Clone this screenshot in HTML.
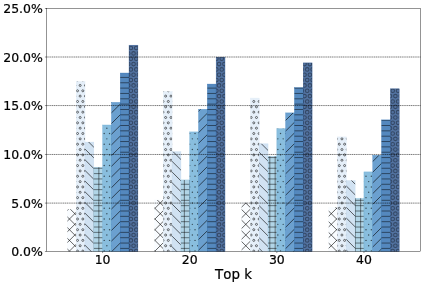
<!DOCTYPE html>
<html><head><meta charset="utf-8"><title>Top k</title>
<style>html,body{margin:0;padding:0;background:#fff}svg{display:block}</style></head>
<body>
<svg width="424" height="285" viewBox="0 0 424 285">
<rect width="424" height="285" fill="#fff"/>
<defs>
<filter id="bl" x="-5%" y="-5%" width="110%" height="110%"><feGaussianBlur stdDeviation="0.45"/></filter>
<filter id="bs" x="-5%" y="-5%" width="110%" height="110%"><feGaussianBlur stdDeviation="0.25"/></filter>
<clipPath id="c00"><rect x="67.4" y="209.3" width="8.81" height="42.2"/></clipPath>
<clipPath id="c01"><rect x="76.21" y="81.6" width="8.81" height="169.9"/></clipPath>
<clipPath id="c02"><rect x="85.02" y="142.1" width="8.81" height="109.4"/></clipPath>
<clipPath id="c03"><rect x="93.83" y="167.2" width="8.81" height="84.3"/></clipPath>
<clipPath id="c04"><rect x="102.64" y="125" width="8.81" height="126.5"/></clipPath>
<clipPath id="c05"><rect x="111.45" y="102.4" width="8.81" height="149.1"/></clipPath>
<clipPath id="c06"><rect x="120.26" y="73.05" width="8.81" height="178.45"/></clipPath>
<clipPath id="c07"><rect x="129.07" y="45.2" width="8.81" height="206.3"/></clipPath>
<clipPath id="c10"><rect x="154.5" y="200" width="8.81" height="51.5"/></clipPath>
<clipPath id="c11"><rect x="163.31" y="91.6" width="8.81" height="159.9"/></clipPath>
<clipPath id="c12"><rect x="172.12" y="151.7" width="8.81" height="99.8"/></clipPath>
<clipPath id="c13"><rect x="180.93" y="179.9" width="8.81" height="71.6"/></clipPath>
<clipPath id="c14"><rect x="189.74" y="131.9" width="8.81" height="119.6"/></clipPath>
<clipPath id="c15"><rect x="198.55" y="109.3" width="8.81" height="142.2"/></clipPath>
<clipPath id="c16"><rect x="207.36" y="84.1" width="8.81" height="167.4"/></clipPath>
<clipPath id="c17"><rect x="216.17" y="57.2" width="8.81" height="194.3"/></clipPath>
<clipPath id="c20"><rect x="241.6" y="202.7" width="8.81" height="48.8"/></clipPath>
<clipPath id="c21"><rect x="250.41" y="98.1" width="8.81" height="153.4"/></clipPath>
<clipPath id="c22"><rect x="259.22" y="143.8" width="8.81" height="107.7"/></clipPath>
<clipPath id="c23"><rect x="268.03" y="156.2" width="8.81" height="95.3"/></clipPath>
<clipPath id="c24"><rect x="276.84" y="128.7" width="8.81" height="122.8"/></clipPath>
<clipPath id="c25"><rect x="285.65" y="112.9" width="8.81" height="138.6"/></clipPath>
<clipPath id="c26"><rect x="294.46" y="87.6" width="8.81" height="163.9"/></clipPath>
<clipPath id="c27"><rect x="303.27" y="62.9" width="8.81" height="188.6"/></clipPath>
<clipPath id="c30"><rect x="328.7" y="207.3" width="8.81" height="44.2"/></clipPath>
<clipPath id="c31"><rect x="337.51" y="136.9" width="8.81" height="114.6"/></clipPath>
<clipPath id="c32"><rect x="346.32" y="180.6" width="8.81" height="70.9"/></clipPath>
<clipPath id="c33"><rect x="355.13" y="198.2" width="8.81" height="53.3"/></clipPath>
<clipPath id="c34"><rect x="363.94" y="171.9" width="8.81" height="79.6"/></clipPath>
<clipPath id="c35"><rect x="372.75" y="155.3" width="8.81" height="96.2"/></clipPath>
<clipPath id="c36"><rect x="381.56" y="119.9" width="8.81" height="131.6"/></clipPath>
<clipPath id="c37"><rect x="390.37" y="88.8" width="8.81" height="162.7"/></clipPath>
</defs>
<rect x="67.4" y="209.3" width="8.81" height="42.2" fill="#f7fbff" fill-opacity="0.8" stroke="#f7fbff" stroke-opacity="0.8" stroke-width="0.45"/>
<g clip-path="url(#c00)" fill="none" stroke="#000" stroke-opacity="0.76" stroke-width="0.8">
<g filter="url(#bs)">
<path d="M66.4 211.39L77.21 200.58M66.4 222.07L77.21 211.26M66.4 232.76L77.21 221.95M66.4 243.44L77.21 232.63M66.4 254.13L77.21 243.32"/>
<path d="M66.4 248.01L77.21 258.82M66.4 237.33L77.21 248.14M66.4 226.64L77.21 237.45M66.4 215.95L77.21 226.76M66.4 205.27L77.21 216.08"/>
</g></g>
<rect x="76.21" y="81.6" width="8.81" height="169.9" fill="#deebf7" fill-opacity="0.8" stroke="#deebf7" stroke-opacity="0.8" stroke-width="0.45"/>
<g clip-path="url(#c01)" fill="none" stroke="#000" stroke-opacity="0.55" stroke-width="1">
<g filter="url(#bl)">
<circle cx="77.47" cy="80.09" r="1.02"/>
<circle cx="82.82" cy="80.09" r="1.02"/>
<circle cx="74.8" cy="85.44" r="1.02"/>
<circle cx="80.14" cy="85.44" r="1.02"/>
<circle cx="85.49" cy="85.44" r="1.02"/>
<circle cx="77.47" cy="90.78" r="1.02"/>
<circle cx="82.82" cy="90.78" r="1.02"/>
<circle cx="74.8" cy="96.12" r="1.02"/>
<circle cx="80.14" cy="96.12" r="1.02"/>
<circle cx="85.49" cy="96.12" r="1.02"/>
<circle cx="77.47" cy="101.47" r="1.02"/>
<circle cx="82.82" cy="101.47" r="1.02"/>
<circle cx="74.8" cy="106.81" r="1.02"/>
<circle cx="80.14" cy="106.81" r="1.02"/>
<circle cx="85.49" cy="106.81" r="1.02"/>
<circle cx="77.47" cy="112.15" r="1.02"/>
<circle cx="82.82" cy="112.15" r="1.02"/>
<circle cx="74.8" cy="117.5" r="1.02"/>
<circle cx="80.14" cy="117.5" r="1.02"/>
<circle cx="85.49" cy="117.5" r="1.02"/>
<circle cx="77.47" cy="122.84" r="1.02"/>
<circle cx="82.82" cy="122.84" r="1.02"/>
<circle cx="74.8" cy="128.18" r="1.02"/>
<circle cx="80.14" cy="128.18" r="1.02"/>
<circle cx="85.49" cy="128.18" r="1.02"/>
<circle cx="77.47" cy="133.52" r="1.02"/>
<circle cx="82.82" cy="133.52" r="1.02"/>
<circle cx="74.8" cy="138.87" r="1.02"/>
<circle cx="80.14" cy="138.87" r="1.02"/>
<circle cx="85.49" cy="138.87" r="1.02"/>
<circle cx="77.47" cy="144.21" r="1.02"/>
<circle cx="82.82" cy="144.21" r="1.02"/>
<circle cx="74.8" cy="149.55" r="1.02"/>
<circle cx="80.14" cy="149.55" r="1.02"/>
<circle cx="85.49" cy="149.55" r="1.02"/>
<circle cx="77.47" cy="154.9" r="1.02"/>
<circle cx="82.82" cy="154.9" r="1.02"/>
<circle cx="74.8" cy="160.24" r="1.02"/>
<circle cx="80.14" cy="160.24" r="1.02"/>
<circle cx="85.49" cy="160.24" r="1.02"/>
<circle cx="77.47" cy="165.58" r="1.02"/>
<circle cx="82.82" cy="165.58" r="1.02"/>
<circle cx="74.8" cy="170.93" r="1.02"/>
<circle cx="80.14" cy="170.93" r="1.02"/>
<circle cx="85.49" cy="170.93" r="1.02"/>
<circle cx="77.47" cy="176.27" r="1.02"/>
<circle cx="82.82" cy="176.27" r="1.02"/>
<circle cx="74.8" cy="181.61" r="1.02"/>
<circle cx="80.14" cy="181.61" r="1.02"/>
<circle cx="85.49" cy="181.61" r="1.02"/>
<circle cx="77.47" cy="186.95" r="1.02"/>
<circle cx="82.82" cy="186.95" r="1.02"/>
<circle cx="74.8" cy="192.3" r="1.02"/>
<circle cx="80.14" cy="192.3" r="1.02"/>
<circle cx="85.49" cy="192.3" r="1.02"/>
<circle cx="77.47" cy="197.64" r="1.02"/>
<circle cx="82.82" cy="197.64" r="1.02"/>
<circle cx="74.8" cy="202.98" r="1.02"/>
<circle cx="80.14" cy="202.98" r="1.02"/>
<circle cx="85.49" cy="202.98" r="1.02"/>
<circle cx="77.47" cy="208.33" r="1.02"/>
<circle cx="82.82" cy="208.33" r="1.02"/>
<circle cx="74.8" cy="213.67" r="1.02"/>
<circle cx="80.14" cy="213.67" r="1.02"/>
<circle cx="85.49" cy="213.67" r="1.02"/>
<circle cx="77.47" cy="219.01" r="1.02"/>
<circle cx="82.82" cy="219.01" r="1.02"/>
<circle cx="74.8" cy="224.36" r="1.02"/>
<circle cx="80.14" cy="224.36" r="1.02"/>
<circle cx="85.49" cy="224.36" r="1.02"/>
<circle cx="77.47" cy="229.7" r="1.02"/>
<circle cx="82.82" cy="229.7" r="1.02"/>
<circle cx="74.8" cy="235.04" r="1.02"/>
<circle cx="80.14" cy="235.04" r="1.02"/>
<circle cx="85.49" cy="235.04" r="1.02"/>
<circle cx="77.47" cy="240.38" r="1.02"/>
<circle cx="82.82" cy="240.38" r="1.02"/>
<circle cx="74.8" cy="245.73" r="1.02"/>
<circle cx="80.14" cy="245.73" r="1.02"/>
<circle cx="85.49" cy="245.73" r="1.02"/>
<circle cx="77.47" cy="251.07" r="1.02"/>
<circle cx="82.82" cy="251.07" r="1.02"/>
</g></g>
<rect x="85.02" y="142.1" width="8.81" height="109.4" fill="#c6dbef" fill-opacity="0.8" stroke="#c6dbef" stroke-opacity="0.8" stroke-width="0.45"/>
<g clip-path="url(#c02)" fill="none" stroke="#000" stroke-opacity="0.76" stroke-width="0.8">
<g filter="url(#bs)">
<path d="M84.02 244.26L94.83 255.07M84.02 233.57L94.83 244.38M84.02 222.89L94.83 233.7M84.02 212.2L94.83 223.01M84.02 201.52L94.83 212.33M84.02 190.83L94.83 201.64M84.02 180.14L94.83 190.95M84.02 169.46L94.83 180.27M84.02 158.77L94.83 169.58M84.02 148.09L94.83 158.9M84.02 137.4L94.83 148.21"/>
</g></g>
<rect x="93.83" y="167.2" width="8.81" height="84.3" fill="#9ecae1" fill-opacity="0.8" stroke="#9ecae1" stroke-opacity="0.8" stroke-width="0.45"/>
<g clip-path="url(#c03)" fill="none" stroke="#000" stroke-opacity="0.6" stroke-width="0.8">
<g filter="url(#bs)">
<path d="M92.83 168.25H103.64M92.83 173.6H103.64M92.83 178.94H103.64M92.83 184.28H103.64M92.83 189.63H103.64M92.83 194.97H103.64M92.83 200.31H103.64M92.83 205.66H103.64M92.83 211H103.64M92.83 216.34H103.64M92.83 221.68H103.64M92.83 227.03H103.64M92.83 232.37H103.64M92.83 237.71H103.64M92.83 243.06H103.64M92.83 248.4H103.64"/>
<path d="M93.5 166.2V252.5M98.85 166.2V252.5"/>
</g></g>
<rect x="102.64" y="125" width="8.81" height="126.5" fill="#6baed6" fill-opacity="0.8" stroke="#6baed6" stroke-opacity="0.8" stroke-width="0.45"/>
<g clip-path="url(#c04)" fill="#000" fill-opacity="0.6">
<g filter="url(#bs)">
<circle cx="101.52" cy="128.18" r="0.72"/>
<circle cx="106.86" cy="128.18" r="0.72"/>
<circle cx="112.2" cy="128.18" r="0.72"/>
<circle cx="104.19" cy="133.52" r="0.72"/>
<circle cx="109.53" cy="133.52" r="0.72"/>
<circle cx="101.52" cy="138.87" r="0.72"/>
<circle cx="106.86" cy="138.87" r="0.72"/>
<circle cx="112.2" cy="138.87" r="0.72"/>
<circle cx="104.19" cy="144.21" r="0.72"/>
<circle cx="109.53" cy="144.21" r="0.72"/>
<circle cx="101.52" cy="149.55" r="0.72"/>
<circle cx="106.86" cy="149.55" r="0.72"/>
<circle cx="112.2" cy="149.55" r="0.72"/>
<circle cx="104.19" cy="154.9" r="0.72"/>
<circle cx="109.53" cy="154.9" r="0.72"/>
<circle cx="101.52" cy="160.24" r="0.72"/>
<circle cx="106.86" cy="160.24" r="0.72"/>
<circle cx="112.2" cy="160.24" r="0.72"/>
<circle cx="104.19" cy="165.58" r="0.72"/>
<circle cx="109.53" cy="165.58" r="0.72"/>
<circle cx="101.52" cy="170.93" r="0.72"/>
<circle cx="106.86" cy="170.93" r="0.72"/>
<circle cx="112.2" cy="170.93" r="0.72"/>
<circle cx="104.19" cy="176.27" r="0.72"/>
<circle cx="109.53" cy="176.27" r="0.72"/>
<circle cx="101.52" cy="181.61" r="0.72"/>
<circle cx="106.86" cy="181.61" r="0.72"/>
<circle cx="112.2" cy="181.61" r="0.72"/>
<circle cx="104.19" cy="186.95" r="0.72"/>
<circle cx="109.53" cy="186.95" r="0.72"/>
<circle cx="101.52" cy="192.3" r="0.72"/>
<circle cx="106.86" cy="192.3" r="0.72"/>
<circle cx="112.2" cy="192.3" r="0.72"/>
<circle cx="104.19" cy="197.64" r="0.72"/>
<circle cx="109.53" cy="197.64" r="0.72"/>
<circle cx="101.52" cy="202.98" r="0.72"/>
<circle cx="106.86" cy="202.98" r="0.72"/>
<circle cx="112.2" cy="202.98" r="0.72"/>
<circle cx="104.19" cy="208.33" r="0.72"/>
<circle cx="109.53" cy="208.33" r="0.72"/>
<circle cx="101.52" cy="213.67" r="0.72"/>
<circle cx="106.86" cy="213.67" r="0.72"/>
<circle cx="112.2" cy="213.67" r="0.72"/>
<circle cx="104.19" cy="219.01" r="0.72"/>
<circle cx="109.53" cy="219.01" r="0.72"/>
<circle cx="101.52" cy="224.36" r="0.72"/>
<circle cx="106.86" cy="224.36" r="0.72"/>
<circle cx="112.2" cy="224.36" r="0.72"/>
<circle cx="104.19" cy="229.7" r="0.72"/>
<circle cx="109.53" cy="229.7" r="0.72"/>
<circle cx="101.52" cy="235.04" r="0.72"/>
<circle cx="106.86" cy="235.04" r="0.72"/>
<circle cx="112.2" cy="235.04" r="0.72"/>
<circle cx="104.19" cy="240.38" r="0.72"/>
<circle cx="109.53" cy="240.38" r="0.72"/>
<circle cx="101.52" cy="245.73" r="0.72"/>
<circle cx="106.86" cy="245.73" r="0.72"/>
<circle cx="112.2" cy="245.73" r="0.72"/>
<circle cx="104.19" cy="251.07" r="0.72"/>
<circle cx="109.53" cy="251.07" r="0.72"/>
</g></g>
<rect x="111.45" y="102.4" width="8.81" height="149.1" fill="#4688c3" fill-opacity="0.8" stroke="#4688c3" stroke-opacity="0.8" stroke-width="0.45"/>
<g clip-path="url(#c05)" fill="none" stroke="#000" stroke-opacity="0.76" stroke-width="0.8">
<g filter="url(#bs)">
<path d="M110.45 103.22L121.26 92.41M110.45 113.91L121.26 103.1M110.45 124.59L121.26 113.78M110.45 135.28L121.26 124.47M110.45 145.96L121.26 135.15M110.45 156.65L121.26 145.84M110.45 167.34L121.26 156.53M110.45 178.02L121.26 167.21M110.45 188.71L121.26 177.9M110.45 199.39L121.26 188.58M110.45 210.08L121.26 199.27M110.45 220.77L121.26 209.96M110.45 231.45L121.26 220.64M110.45 242.14L121.26 231.33M110.45 252.82L121.26 242.01"/>
</g></g>
<rect x="120.26" y="73.05" width="8.81" height="178.45" fill="#296aae" fill-opacity="0.8" stroke="#296aae" stroke-opacity="0.8" stroke-width="0.45"/>
<g clip-path="url(#c06)" fill="none" stroke="#000" stroke-opacity="0.62" stroke-width="0.8">
<g filter="url(#bs)">
<path d="M119.26 72.08H130.07M119.26 77.42H130.07M119.26 82.77H130.07M119.26 88.11H130.07M119.26 93.45H130.07M119.26 98.8H130.07M119.26 104.14H130.07M119.26 109.48H130.07M119.26 114.82H130.07M119.26 120.17H130.07M119.26 125.51H130.07M119.26 130.85H130.07M119.26 136.2H130.07M119.26 141.54H130.07M119.26 146.88H130.07M119.26 152.23H130.07M119.26 157.57H130.07M119.26 162.91H130.07M119.26 168.25H130.07M119.26 173.6H130.07M119.26 178.94H130.07M119.26 184.28H130.07M119.26 189.63H130.07M119.26 194.97H130.07M119.26 200.31H130.07M119.26 205.66H130.07M119.26 211H130.07M119.26 216.34H130.07M119.26 221.68H130.07M119.26 227.03H130.07M119.26 232.37H130.07M119.26 237.71H130.07M119.26 243.06H130.07M119.26 248.4H130.07"/>
</g></g>
<rect x="129.07" y="45.2" width="8.81" height="206.3" fill="#274f88" fill-opacity="0.8" stroke="#274f88" stroke-opacity="0.8" stroke-width="0.45"/>
<g clip-path="url(#c07)" fill="none" stroke="#000" stroke-opacity="0.37" stroke-width="1.1">
<g filter="url(#bl)">
<circle cx="128.23" cy="42.69" r="1.78"/>
<circle cx="133.57" cy="42.69" r="1.78"/>
<circle cx="138.92" cy="42.69" r="1.78"/>
<circle cx="130.9" cy="48.04" r="1.78"/>
<circle cx="136.25" cy="48.04" r="1.78"/>
<circle cx="128.23" cy="53.38" r="1.78"/>
<circle cx="133.57" cy="53.38" r="1.78"/>
<circle cx="138.92" cy="53.38" r="1.78"/>
<circle cx="130.9" cy="58.72" r="1.78"/>
<circle cx="136.25" cy="58.72" r="1.78"/>
<circle cx="128.23" cy="64.07" r="1.78"/>
<circle cx="133.57" cy="64.07" r="1.78"/>
<circle cx="138.92" cy="64.07" r="1.78"/>
<circle cx="130.9" cy="69.41" r="1.78"/>
<circle cx="136.25" cy="69.41" r="1.78"/>
<circle cx="128.23" cy="74.75" r="1.78"/>
<circle cx="133.57" cy="74.75" r="1.78"/>
<circle cx="138.92" cy="74.75" r="1.78"/>
<circle cx="130.9" cy="80.09" r="1.78"/>
<circle cx="136.25" cy="80.09" r="1.78"/>
<circle cx="128.23" cy="85.44" r="1.78"/>
<circle cx="133.57" cy="85.44" r="1.78"/>
<circle cx="138.92" cy="85.44" r="1.78"/>
<circle cx="130.9" cy="90.78" r="1.78"/>
<circle cx="136.25" cy="90.78" r="1.78"/>
<circle cx="128.23" cy="96.12" r="1.78"/>
<circle cx="133.57" cy="96.12" r="1.78"/>
<circle cx="138.92" cy="96.12" r="1.78"/>
<circle cx="130.9" cy="101.47" r="1.78"/>
<circle cx="136.25" cy="101.47" r="1.78"/>
<circle cx="128.23" cy="106.81" r="1.78"/>
<circle cx="133.57" cy="106.81" r="1.78"/>
<circle cx="138.92" cy="106.81" r="1.78"/>
<circle cx="130.9" cy="112.15" r="1.78"/>
<circle cx="136.25" cy="112.15" r="1.78"/>
<circle cx="128.23" cy="117.5" r="1.78"/>
<circle cx="133.57" cy="117.5" r="1.78"/>
<circle cx="138.92" cy="117.5" r="1.78"/>
<circle cx="130.9" cy="122.84" r="1.78"/>
<circle cx="136.25" cy="122.84" r="1.78"/>
<circle cx="128.23" cy="128.18" r="1.78"/>
<circle cx="133.57" cy="128.18" r="1.78"/>
<circle cx="138.92" cy="128.18" r="1.78"/>
<circle cx="130.9" cy="133.52" r="1.78"/>
<circle cx="136.25" cy="133.52" r="1.78"/>
<circle cx="128.23" cy="138.87" r="1.78"/>
<circle cx="133.57" cy="138.87" r="1.78"/>
<circle cx="138.92" cy="138.87" r="1.78"/>
<circle cx="130.9" cy="144.21" r="1.78"/>
<circle cx="136.25" cy="144.21" r="1.78"/>
<circle cx="128.23" cy="149.55" r="1.78"/>
<circle cx="133.57" cy="149.55" r="1.78"/>
<circle cx="138.92" cy="149.55" r="1.78"/>
<circle cx="130.9" cy="154.9" r="1.78"/>
<circle cx="136.25" cy="154.9" r="1.78"/>
<circle cx="128.23" cy="160.24" r="1.78"/>
<circle cx="133.57" cy="160.24" r="1.78"/>
<circle cx="138.92" cy="160.24" r="1.78"/>
<circle cx="130.9" cy="165.58" r="1.78"/>
<circle cx="136.25" cy="165.58" r="1.78"/>
<circle cx="128.23" cy="170.93" r="1.78"/>
<circle cx="133.57" cy="170.93" r="1.78"/>
<circle cx="138.92" cy="170.93" r="1.78"/>
<circle cx="130.9" cy="176.27" r="1.78"/>
<circle cx="136.25" cy="176.27" r="1.78"/>
<circle cx="128.23" cy="181.61" r="1.78"/>
<circle cx="133.57" cy="181.61" r="1.78"/>
<circle cx="138.92" cy="181.61" r="1.78"/>
<circle cx="130.9" cy="186.95" r="1.78"/>
<circle cx="136.25" cy="186.95" r="1.78"/>
<circle cx="128.23" cy="192.3" r="1.78"/>
<circle cx="133.57" cy="192.3" r="1.78"/>
<circle cx="138.92" cy="192.3" r="1.78"/>
<circle cx="130.9" cy="197.64" r="1.78"/>
<circle cx="136.25" cy="197.64" r="1.78"/>
<circle cx="128.23" cy="202.98" r="1.78"/>
<circle cx="133.57" cy="202.98" r="1.78"/>
<circle cx="138.92" cy="202.98" r="1.78"/>
<circle cx="130.9" cy="208.33" r="1.78"/>
<circle cx="136.25" cy="208.33" r="1.78"/>
<circle cx="128.23" cy="213.67" r="1.78"/>
<circle cx="133.57" cy="213.67" r="1.78"/>
<circle cx="138.92" cy="213.67" r="1.78"/>
<circle cx="130.9" cy="219.01" r="1.78"/>
<circle cx="136.25" cy="219.01" r="1.78"/>
<circle cx="128.23" cy="224.36" r="1.78"/>
<circle cx="133.57" cy="224.36" r="1.78"/>
<circle cx="138.92" cy="224.36" r="1.78"/>
<circle cx="130.9" cy="229.7" r="1.78"/>
<circle cx="136.25" cy="229.7" r="1.78"/>
<circle cx="128.23" cy="235.04" r="1.78"/>
<circle cx="133.57" cy="235.04" r="1.78"/>
<circle cx="138.92" cy="235.04" r="1.78"/>
<circle cx="130.9" cy="240.38" r="1.78"/>
<circle cx="136.25" cy="240.38" r="1.78"/>
<circle cx="128.23" cy="245.73" r="1.78"/>
<circle cx="133.57" cy="245.73" r="1.78"/>
<circle cx="138.92" cy="245.73" r="1.78"/>
<circle cx="130.9" cy="251.07" r="1.78"/>
<circle cx="136.25" cy="251.07" r="1.78"/>
</g></g>
<rect x="154.5" y="200" width="8.81" height="51.5" fill="#f7fbff" fill-opacity="0.8" stroke="#f7fbff" stroke-opacity="0.8" stroke-width="0.45"/>
<g clip-path="url(#c10)" fill="none" stroke="#000" stroke-opacity="0.76" stroke-width="0.8">
<g filter="url(#bs)">
<path d="M153.5 199.09L164.31 188.28M153.5 209.77L164.31 198.96M153.5 220.46L164.31 209.65M153.5 231.15L164.31 220.34M153.5 241.83L164.31 231.02M153.5 252.52L164.31 241.71M153.5 263.2L164.31 252.39"/>
<path d="M153.5 249.62L164.31 260.43M153.5 238.94L164.31 249.75M153.5 228.25L164.31 239.06M153.5 217.57L164.31 228.38M153.5 206.88L164.31 217.69M153.5 196.19L164.31 207"/>
</g></g>
<rect x="163.31" y="91.6" width="8.81" height="159.9" fill="#deebf7" fill-opacity="0.8" stroke="#deebf7" stroke-opacity="0.8" stroke-width="0.45"/>
<g clip-path="url(#c11)" fill="none" stroke="#000" stroke-opacity="0.55" stroke-width="1">
<g filter="url(#bl)">
<circle cx="162.96" cy="90.78" r="1.02"/>
<circle cx="168.3" cy="90.78" r="1.02"/>
<circle cx="173.65" cy="90.78" r="1.02"/>
<circle cx="165.63" cy="96.12" r="1.02"/>
<circle cx="170.98" cy="96.12" r="1.02"/>
<circle cx="162.96" cy="101.47" r="1.02"/>
<circle cx="168.3" cy="101.47" r="1.02"/>
<circle cx="173.65" cy="101.47" r="1.02"/>
<circle cx="165.63" cy="106.81" r="1.02"/>
<circle cx="170.98" cy="106.81" r="1.02"/>
<circle cx="162.96" cy="112.15" r="1.02"/>
<circle cx="168.3" cy="112.15" r="1.02"/>
<circle cx="173.65" cy="112.15" r="1.02"/>
<circle cx="165.63" cy="117.5" r="1.02"/>
<circle cx="170.98" cy="117.5" r="1.02"/>
<circle cx="162.96" cy="122.84" r="1.02"/>
<circle cx="168.3" cy="122.84" r="1.02"/>
<circle cx="173.65" cy="122.84" r="1.02"/>
<circle cx="165.63" cy="128.18" r="1.02"/>
<circle cx="170.98" cy="128.18" r="1.02"/>
<circle cx="162.96" cy="133.52" r="1.02"/>
<circle cx="168.3" cy="133.52" r="1.02"/>
<circle cx="173.65" cy="133.52" r="1.02"/>
<circle cx="165.63" cy="138.87" r="1.02"/>
<circle cx="170.98" cy="138.87" r="1.02"/>
<circle cx="162.96" cy="144.21" r="1.02"/>
<circle cx="168.3" cy="144.21" r="1.02"/>
<circle cx="173.65" cy="144.21" r="1.02"/>
<circle cx="165.63" cy="149.55" r="1.02"/>
<circle cx="170.98" cy="149.55" r="1.02"/>
<circle cx="162.96" cy="154.9" r="1.02"/>
<circle cx="168.3" cy="154.9" r="1.02"/>
<circle cx="173.65" cy="154.9" r="1.02"/>
<circle cx="165.63" cy="160.24" r="1.02"/>
<circle cx="170.98" cy="160.24" r="1.02"/>
<circle cx="162.96" cy="165.58" r="1.02"/>
<circle cx="168.3" cy="165.58" r="1.02"/>
<circle cx="173.65" cy="165.58" r="1.02"/>
<circle cx="165.63" cy="170.93" r="1.02"/>
<circle cx="170.98" cy="170.93" r="1.02"/>
<circle cx="162.96" cy="176.27" r="1.02"/>
<circle cx="168.3" cy="176.27" r="1.02"/>
<circle cx="173.65" cy="176.27" r="1.02"/>
<circle cx="165.63" cy="181.61" r="1.02"/>
<circle cx="170.98" cy="181.61" r="1.02"/>
<circle cx="162.96" cy="186.95" r="1.02"/>
<circle cx="168.3" cy="186.95" r="1.02"/>
<circle cx="173.65" cy="186.95" r="1.02"/>
<circle cx="165.63" cy="192.3" r="1.02"/>
<circle cx="170.98" cy="192.3" r="1.02"/>
<circle cx="162.96" cy="197.64" r="1.02"/>
<circle cx="168.3" cy="197.64" r="1.02"/>
<circle cx="173.65" cy="197.64" r="1.02"/>
<circle cx="165.63" cy="202.98" r="1.02"/>
<circle cx="170.98" cy="202.98" r="1.02"/>
<circle cx="162.96" cy="208.33" r="1.02"/>
<circle cx="168.3" cy="208.33" r="1.02"/>
<circle cx="173.65" cy="208.33" r="1.02"/>
<circle cx="165.63" cy="213.67" r="1.02"/>
<circle cx="170.98" cy="213.67" r="1.02"/>
<circle cx="162.96" cy="219.01" r="1.02"/>
<circle cx="168.3" cy="219.01" r="1.02"/>
<circle cx="173.65" cy="219.01" r="1.02"/>
<circle cx="165.63" cy="224.36" r="1.02"/>
<circle cx="170.98" cy="224.36" r="1.02"/>
<circle cx="162.96" cy="229.7" r="1.02"/>
<circle cx="168.3" cy="229.7" r="1.02"/>
<circle cx="173.65" cy="229.7" r="1.02"/>
<circle cx="165.63" cy="235.04" r="1.02"/>
<circle cx="170.98" cy="235.04" r="1.02"/>
<circle cx="162.96" cy="240.38" r="1.02"/>
<circle cx="168.3" cy="240.38" r="1.02"/>
<circle cx="173.65" cy="240.38" r="1.02"/>
<circle cx="165.63" cy="245.73" r="1.02"/>
<circle cx="170.98" cy="245.73" r="1.02"/>
<circle cx="162.96" cy="251.07" r="1.02"/>
<circle cx="168.3" cy="251.07" r="1.02"/>
<circle cx="173.65" cy="251.07" r="1.02"/>
</g></g>
<rect x="172.12" y="151.7" width="8.81" height="99.8" fill="#c6dbef" fill-opacity="0.8" stroke="#c6dbef" stroke-opacity="0.8" stroke-width="0.45"/>
<g clip-path="url(#c12)" fill="none" stroke="#000" stroke-opacity="0.76" stroke-width="0.8">
<g filter="url(#bs)">
<path d="M171.12 245.87L181.93 256.68M171.12 235.19L181.93 246M171.12 224.5L181.93 235.31M171.12 213.81L181.93 224.62M171.12 203.13L181.93 213.94M171.12 192.44L181.93 203.25M171.12 181.76L181.93 192.57M171.12 171.07L181.93 181.88M171.12 160.38L181.93 171.19M171.12 149.7L181.93 160.51"/>
</g></g>
<rect x="180.93" y="179.9" width="8.81" height="71.6" fill="#9ecae1" fill-opacity="0.8" stroke="#9ecae1" stroke-opacity="0.8" stroke-width="0.45"/>
<g clip-path="url(#c13)" fill="none" stroke="#000" stroke-opacity="0.6" stroke-width="0.8">
<g filter="url(#bs)">
<path d="M179.93 178.94H190.74M179.93 184.28H190.74M179.93 189.63H190.74M179.93 194.97H190.74M179.93 200.31H190.74M179.93 205.66H190.74M179.93 211H190.74M179.93 216.34H190.74M179.93 221.68H190.74M179.93 227.03H190.74M179.93 232.37H190.74M179.93 237.71H190.74M179.93 243.06H190.74M179.93 248.4H190.74"/>
<path d="M184.33 178.9V252.5M189.68 178.9V252.5"/>
</g></g>
<rect x="189.74" y="131.9" width="8.81" height="119.6" fill="#6baed6" fill-opacity="0.8" stroke="#6baed6" stroke-opacity="0.8" stroke-width="0.45"/>
<g clip-path="url(#c14)" fill="#000" fill-opacity="0.6">
<g filter="url(#bs)">
<circle cx="189.68" cy="133.52" r="0.72"/>
<circle cx="195.02" cy="133.52" r="0.72"/>
<circle cx="192.35" cy="138.87" r="0.72"/>
<circle cx="197.69" cy="138.87" r="0.72"/>
<circle cx="189.68" cy="144.21" r="0.72"/>
<circle cx="195.02" cy="144.21" r="0.72"/>
<circle cx="192.35" cy="149.55" r="0.72"/>
<circle cx="197.69" cy="149.55" r="0.72"/>
<circle cx="189.68" cy="154.9" r="0.72"/>
<circle cx="195.02" cy="154.9" r="0.72"/>
<circle cx="192.35" cy="160.24" r="0.72"/>
<circle cx="197.69" cy="160.24" r="0.72"/>
<circle cx="189.68" cy="165.58" r="0.72"/>
<circle cx="195.02" cy="165.58" r="0.72"/>
<circle cx="192.35" cy="170.93" r="0.72"/>
<circle cx="197.69" cy="170.93" r="0.72"/>
<circle cx="189.68" cy="176.27" r="0.72"/>
<circle cx="195.02" cy="176.27" r="0.72"/>
<circle cx="192.35" cy="181.61" r="0.72"/>
<circle cx="197.69" cy="181.61" r="0.72"/>
<circle cx="189.68" cy="186.95" r="0.72"/>
<circle cx="195.02" cy="186.95" r="0.72"/>
<circle cx="192.35" cy="192.3" r="0.72"/>
<circle cx="197.69" cy="192.3" r="0.72"/>
<circle cx="189.68" cy="197.64" r="0.72"/>
<circle cx="195.02" cy="197.64" r="0.72"/>
<circle cx="192.35" cy="202.98" r="0.72"/>
<circle cx="197.69" cy="202.98" r="0.72"/>
<circle cx="189.68" cy="208.33" r="0.72"/>
<circle cx="195.02" cy="208.33" r="0.72"/>
<circle cx="192.35" cy="213.67" r="0.72"/>
<circle cx="197.69" cy="213.67" r="0.72"/>
<circle cx="189.68" cy="219.01" r="0.72"/>
<circle cx="195.02" cy="219.01" r="0.72"/>
<circle cx="192.35" cy="224.36" r="0.72"/>
<circle cx="197.69" cy="224.36" r="0.72"/>
<circle cx="189.68" cy="229.7" r="0.72"/>
<circle cx="195.02" cy="229.7" r="0.72"/>
<circle cx="192.35" cy="235.04" r="0.72"/>
<circle cx="197.69" cy="235.04" r="0.72"/>
<circle cx="189.68" cy="240.38" r="0.72"/>
<circle cx="195.02" cy="240.38" r="0.72"/>
<circle cx="192.35" cy="245.73" r="0.72"/>
<circle cx="197.69" cy="245.73" r="0.72"/>
<circle cx="189.68" cy="251.07" r="0.72"/>
<circle cx="195.02" cy="251.07" r="0.72"/>
</g></g>
<rect x="198.55" y="109.3" width="8.81" height="142.2" fill="#4688c3" fill-opacity="0.8" stroke="#4688c3" stroke-opacity="0.8" stroke-width="0.45"/>
<g clip-path="url(#c15)" fill="none" stroke="#000" stroke-opacity="0.76" stroke-width="0.8">
<g filter="url(#bs)">
<path d="M197.55 112.29L208.36 101.48M197.55 122.98L208.36 112.17M197.55 133.67L208.36 122.86M197.55 144.35L208.36 133.54M197.55 155.04L208.36 144.23M197.55 165.72L208.36 154.91M197.55 176.41L208.36 165.6M197.55 187.1L208.36 176.29M197.55 197.78L208.36 186.97M197.55 208.47L208.36 197.66M197.55 219.15L208.36 208.34M197.55 229.84L208.36 219.03M197.55 240.53L208.36 229.72M197.55 251.21L208.36 240.4M197.55 261.9L208.36 251.09"/>
</g></g>
<rect x="207.36" y="84.1" width="8.81" height="167.4" fill="#296aae" fill-opacity="0.8" stroke="#296aae" stroke-opacity="0.8" stroke-width="0.45"/>
<g clip-path="url(#c16)" fill="none" stroke="#000" stroke-opacity="0.62" stroke-width="0.8">
<g filter="url(#bs)">
<path d="M206.36 88.11H217.17M206.36 93.45H217.17M206.36 98.8H217.17M206.36 104.14H217.17M206.36 109.48H217.17M206.36 114.82H217.17M206.36 120.17H217.17M206.36 125.51H217.17M206.36 130.85H217.17M206.36 136.2H217.17M206.36 141.54H217.17M206.36 146.88H217.17M206.36 152.23H217.17M206.36 157.57H217.17M206.36 162.91H217.17M206.36 168.25H217.17M206.36 173.6H217.17M206.36 178.94H217.17M206.36 184.28H217.17M206.36 189.63H217.17M206.36 194.97H217.17M206.36 200.31H217.17M206.36 205.66H217.17M206.36 211H217.17M206.36 216.34H217.17M206.36 221.68H217.17M206.36 227.03H217.17M206.36 232.37H217.17M206.36 237.71H217.17M206.36 243.06H217.17M206.36 248.4H217.17"/>
</g></g>
<rect x="216.17" y="57.2" width="8.81" height="194.3" fill="#274f88" fill-opacity="0.8" stroke="#274f88" stroke-opacity="0.8" stroke-width="0.45"/>
<g clip-path="url(#c17)" fill="none" stroke="#000" stroke-opacity="0.37" stroke-width="1.1">
<g filter="url(#bl)">
<circle cx="216.39" cy="58.72" r="1.78"/>
<circle cx="221.73" cy="58.72" r="1.78"/>
<circle cx="227.08" cy="58.72" r="1.78"/>
<circle cx="213.72" cy="64.07" r="1.78"/>
<circle cx="219.06" cy="64.07" r="1.78"/>
<circle cx="224.41" cy="64.07" r="1.78"/>
<circle cx="216.39" cy="69.41" r="1.78"/>
<circle cx="221.73" cy="69.41" r="1.78"/>
<circle cx="227.08" cy="69.41" r="1.78"/>
<circle cx="213.72" cy="74.75" r="1.78"/>
<circle cx="219.06" cy="74.75" r="1.78"/>
<circle cx="224.41" cy="74.75" r="1.78"/>
<circle cx="216.39" cy="80.09" r="1.78"/>
<circle cx="221.73" cy="80.09" r="1.78"/>
<circle cx="227.08" cy="80.09" r="1.78"/>
<circle cx="213.72" cy="85.44" r="1.78"/>
<circle cx="219.06" cy="85.44" r="1.78"/>
<circle cx="224.41" cy="85.44" r="1.78"/>
<circle cx="216.39" cy="90.78" r="1.78"/>
<circle cx="221.73" cy="90.78" r="1.78"/>
<circle cx="227.08" cy="90.78" r="1.78"/>
<circle cx="213.72" cy="96.12" r="1.78"/>
<circle cx="219.06" cy="96.12" r="1.78"/>
<circle cx="224.41" cy="96.12" r="1.78"/>
<circle cx="216.39" cy="101.47" r="1.78"/>
<circle cx="221.73" cy="101.47" r="1.78"/>
<circle cx="227.08" cy="101.47" r="1.78"/>
<circle cx="213.72" cy="106.81" r="1.78"/>
<circle cx="219.06" cy="106.81" r="1.78"/>
<circle cx="224.41" cy="106.81" r="1.78"/>
<circle cx="216.39" cy="112.15" r="1.78"/>
<circle cx="221.73" cy="112.15" r="1.78"/>
<circle cx="227.08" cy="112.15" r="1.78"/>
<circle cx="213.72" cy="117.5" r="1.78"/>
<circle cx="219.06" cy="117.5" r="1.78"/>
<circle cx="224.41" cy="117.5" r="1.78"/>
<circle cx="216.39" cy="122.84" r="1.78"/>
<circle cx="221.73" cy="122.84" r="1.78"/>
<circle cx="227.08" cy="122.84" r="1.78"/>
<circle cx="213.72" cy="128.18" r="1.78"/>
<circle cx="219.06" cy="128.18" r="1.78"/>
<circle cx="224.41" cy="128.18" r="1.78"/>
<circle cx="216.39" cy="133.52" r="1.78"/>
<circle cx="221.73" cy="133.52" r="1.78"/>
<circle cx="227.08" cy="133.52" r="1.78"/>
<circle cx="213.72" cy="138.87" r="1.78"/>
<circle cx="219.06" cy="138.87" r="1.78"/>
<circle cx="224.41" cy="138.87" r="1.78"/>
<circle cx="216.39" cy="144.21" r="1.78"/>
<circle cx="221.73" cy="144.21" r="1.78"/>
<circle cx="227.08" cy="144.21" r="1.78"/>
<circle cx="213.72" cy="149.55" r="1.78"/>
<circle cx="219.06" cy="149.55" r="1.78"/>
<circle cx="224.41" cy="149.55" r="1.78"/>
<circle cx="216.39" cy="154.9" r="1.78"/>
<circle cx="221.73" cy="154.9" r="1.78"/>
<circle cx="227.08" cy="154.9" r="1.78"/>
<circle cx="213.72" cy="160.24" r="1.78"/>
<circle cx="219.06" cy="160.24" r="1.78"/>
<circle cx="224.41" cy="160.24" r="1.78"/>
<circle cx="216.39" cy="165.58" r="1.78"/>
<circle cx="221.73" cy="165.58" r="1.78"/>
<circle cx="227.08" cy="165.58" r="1.78"/>
<circle cx="213.72" cy="170.93" r="1.78"/>
<circle cx="219.06" cy="170.93" r="1.78"/>
<circle cx="224.41" cy="170.93" r="1.78"/>
<circle cx="216.39" cy="176.27" r="1.78"/>
<circle cx="221.73" cy="176.27" r="1.78"/>
<circle cx="227.08" cy="176.27" r="1.78"/>
<circle cx="213.72" cy="181.61" r="1.78"/>
<circle cx="219.06" cy="181.61" r="1.78"/>
<circle cx="224.41" cy="181.61" r="1.78"/>
<circle cx="216.39" cy="186.95" r="1.78"/>
<circle cx="221.73" cy="186.95" r="1.78"/>
<circle cx="227.08" cy="186.95" r="1.78"/>
<circle cx="213.72" cy="192.3" r="1.78"/>
<circle cx="219.06" cy="192.3" r="1.78"/>
<circle cx="224.41" cy="192.3" r="1.78"/>
<circle cx="216.39" cy="197.64" r="1.78"/>
<circle cx="221.73" cy="197.64" r="1.78"/>
<circle cx="227.08" cy="197.64" r="1.78"/>
<circle cx="213.72" cy="202.98" r="1.78"/>
<circle cx="219.06" cy="202.98" r="1.78"/>
<circle cx="224.41" cy="202.98" r="1.78"/>
<circle cx="216.39" cy="208.33" r="1.78"/>
<circle cx="221.73" cy="208.33" r="1.78"/>
<circle cx="227.08" cy="208.33" r="1.78"/>
<circle cx="213.72" cy="213.67" r="1.78"/>
<circle cx="219.06" cy="213.67" r="1.78"/>
<circle cx="224.41" cy="213.67" r="1.78"/>
<circle cx="216.39" cy="219.01" r="1.78"/>
<circle cx="221.73" cy="219.01" r="1.78"/>
<circle cx="227.08" cy="219.01" r="1.78"/>
<circle cx="213.72" cy="224.36" r="1.78"/>
<circle cx="219.06" cy="224.36" r="1.78"/>
<circle cx="224.41" cy="224.36" r="1.78"/>
<circle cx="216.39" cy="229.7" r="1.78"/>
<circle cx="221.73" cy="229.7" r="1.78"/>
<circle cx="227.08" cy="229.7" r="1.78"/>
<circle cx="213.72" cy="235.04" r="1.78"/>
<circle cx="219.06" cy="235.04" r="1.78"/>
<circle cx="224.41" cy="235.04" r="1.78"/>
<circle cx="216.39" cy="240.38" r="1.78"/>
<circle cx="221.73" cy="240.38" r="1.78"/>
<circle cx="227.08" cy="240.38" r="1.78"/>
<circle cx="213.72" cy="245.73" r="1.78"/>
<circle cx="219.06" cy="245.73" r="1.78"/>
<circle cx="224.41" cy="245.73" r="1.78"/>
<circle cx="216.39" cy="251.07" r="1.78"/>
<circle cx="221.73" cy="251.07" r="1.78"/>
<circle cx="227.08" cy="251.07" r="1.78"/>
</g></g>
<rect x="241.6" y="202.7" width="8.81" height="48.8" fill="#f7fbff" fill-opacity="0.8" stroke="#f7fbff" stroke-opacity="0.8" stroke-width="0.45"/>
<g clip-path="url(#c20)" fill="none" stroke="#000" stroke-opacity="0.76" stroke-width="0.8">
<g filter="url(#bs)">
<path d="M240.6 208.16L251.41 197.35M240.6 218.85L251.41 208.04M240.6 229.53L251.41 218.72M240.6 240.22L251.41 229.41M240.6 250.91L251.41 240.1M240.6 261.59L251.41 250.78"/>
<path d="M240.6 251.24L251.41 262.05M240.6 240.55L251.41 251.36M240.6 229.86L251.41 240.67M240.6 219.18L251.41 229.99M240.6 208.49L251.41 219.3M240.6 197.81L251.41 208.62"/>
</g></g>
<rect x="250.41" y="98.1" width="8.81" height="153.4" fill="#deebf7" fill-opacity="0.8" stroke="#deebf7" stroke-opacity="0.8" stroke-width="0.45"/>
<g clip-path="url(#c21)" fill="none" stroke="#000" stroke-opacity="0.55" stroke-width="1">
<g filter="url(#bl)">
<circle cx="251.12" cy="96.12" r="1.02"/>
<circle cx="256.46" cy="96.12" r="1.02"/>
<circle cx="248.45" cy="101.47" r="1.02"/>
<circle cx="253.79" cy="101.47" r="1.02"/>
<circle cx="259.14" cy="101.47" r="1.02"/>
<circle cx="251.12" cy="106.81" r="1.02"/>
<circle cx="256.46" cy="106.81" r="1.02"/>
<circle cx="248.45" cy="112.15" r="1.02"/>
<circle cx="253.79" cy="112.15" r="1.02"/>
<circle cx="259.14" cy="112.15" r="1.02"/>
<circle cx="251.12" cy="117.5" r="1.02"/>
<circle cx="256.46" cy="117.5" r="1.02"/>
<circle cx="248.45" cy="122.84" r="1.02"/>
<circle cx="253.79" cy="122.84" r="1.02"/>
<circle cx="259.14" cy="122.84" r="1.02"/>
<circle cx="251.12" cy="128.18" r="1.02"/>
<circle cx="256.46" cy="128.18" r="1.02"/>
<circle cx="248.45" cy="133.52" r="1.02"/>
<circle cx="253.79" cy="133.52" r="1.02"/>
<circle cx="259.14" cy="133.52" r="1.02"/>
<circle cx="251.12" cy="138.87" r="1.02"/>
<circle cx="256.46" cy="138.87" r="1.02"/>
<circle cx="248.45" cy="144.21" r="1.02"/>
<circle cx="253.79" cy="144.21" r="1.02"/>
<circle cx="259.14" cy="144.21" r="1.02"/>
<circle cx="251.12" cy="149.55" r="1.02"/>
<circle cx="256.46" cy="149.55" r="1.02"/>
<circle cx="248.45" cy="154.9" r="1.02"/>
<circle cx="253.79" cy="154.9" r="1.02"/>
<circle cx="259.14" cy="154.9" r="1.02"/>
<circle cx="251.12" cy="160.24" r="1.02"/>
<circle cx="256.46" cy="160.24" r="1.02"/>
<circle cx="248.45" cy="165.58" r="1.02"/>
<circle cx="253.79" cy="165.58" r="1.02"/>
<circle cx="259.14" cy="165.58" r="1.02"/>
<circle cx="251.12" cy="170.93" r="1.02"/>
<circle cx="256.46" cy="170.93" r="1.02"/>
<circle cx="248.45" cy="176.27" r="1.02"/>
<circle cx="253.79" cy="176.27" r="1.02"/>
<circle cx="259.14" cy="176.27" r="1.02"/>
<circle cx="251.12" cy="181.61" r="1.02"/>
<circle cx="256.46" cy="181.61" r="1.02"/>
<circle cx="248.45" cy="186.95" r="1.02"/>
<circle cx="253.79" cy="186.95" r="1.02"/>
<circle cx="259.14" cy="186.95" r="1.02"/>
<circle cx="251.12" cy="192.3" r="1.02"/>
<circle cx="256.46" cy="192.3" r="1.02"/>
<circle cx="248.45" cy="197.64" r="1.02"/>
<circle cx="253.79" cy="197.64" r="1.02"/>
<circle cx="259.14" cy="197.64" r="1.02"/>
<circle cx="251.12" cy="202.98" r="1.02"/>
<circle cx="256.46" cy="202.98" r="1.02"/>
<circle cx="248.45" cy="208.33" r="1.02"/>
<circle cx="253.79" cy="208.33" r="1.02"/>
<circle cx="259.14" cy="208.33" r="1.02"/>
<circle cx="251.12" cy="213.67" r="1.02"/>
<circle cx="256.46" cy="213.67" r="1.02"/>
<circle cx="248.45" cy="219.01" r="1.02"/>
<circle cx="253.79" cy="219.01" r="1.02"/>
<circle cx="259.14" cy="219.01" r="1.02"/>
<circle cx="251.12" cy="224.36" r="1.02"/>
<circle cx="256.46" cy="224.36" r="1.02"/>
<circle cx="248.45" cy="229.7" r="1.02"/>
<circle cx="253.79" cy="229.7" r="1.02"/>
<circle cx="259.14" cy="229.7" r="1.02"/>
<circle cx="251.12" cy="235.04" r="1.02"/>
<circle cx="256.46" cy="235.04" r="1.02"/>
<circle cx="248.45" cy="240.38" r="1.02"/>
<circle cx="253.79" cy="240.38" r="1.02"/>
<circle cx="259.14" cy="240.38" r="1.02"/>
<circle cx="251.12" cy="245.73" r="1.02"/>
<circle cx="256.46" cy="245.73" r="1.02"/>
<circle cx="248.45" cy="251.07" r="1.02"/>
<circle cx="253.79" cy="251.07" r="1.02"/>
<circle cx="259.14" cy="251.07" r="1.02"/>
</g></g>
<rect x="259.22" y="143.8" width="8.81" height="107.7" fill="#c6dbef" fill-opacity="0.8" stroke="#c6dbef" stroke-opacity="0.8" stroke-width="0.45"/>
<g clip-path="url(#c22)" fill="none" stroke="#000" stroke-opacity="0.76" stroke-width="0.8">
<g filter="url(#bs)">
<path d="M258.22 247.48L269.03 258.29M258.22 236.8L269.03 247.61M258.22 226.11L269.03 236.92M258.22 215.43L269.03 226.24M258.22 204.74L269.03 215.55M258.22 194.05L269.03 204.86M258.22 183.37L269.03 194.18M258.22 172.68L269.03 183.49M258.22 162L269.03 172.81M258.22 151.31L269.03 162.12M258.22 140.62L269.03 151.43"/>
</g></g>
<rect x="268.03" y="156.2" width="8.81" height="95.3" fill="#9ecae1" fill-opacity="0.8" stroke="#9ecae1" stroke-opacity="0.8" stroke-width="0.45"/>
<g clip-path="url(#c23)" fill="none" stroke="#000" stroke-opacity="0.6" stroke-width="0.8">
<g filter="url(#bs)">
<path d="M267.03 157.57H277.84M267.03 162.91H277.84M267.03 168.25H277.84M267.03 173.6H277.84M267.03 178.94H277.84M267.03 184.28H277.84M267.03 189.63H277.84M267.03 194.97H277.84M267.03 200.31H277.84M267.03 205.66H277.84M267.03 211H277.84M267.03 216.34H277.84M267.03 221.68H277.84M267.03 227.03H277.84M267.03 232.37H277.84M267.03 237.71H277.84M267.03 243.06H277.84M267.03 248.4H277.84"/>
<path d="M269.82 155.2V252.5M275.16 155.2V252.5"/>
</g></g>
<rect x="276.84" y="128.7" width="8.81" height="122.8" fill="#6baed6" fill-opacity="0.8" stroke="#6baed6" stroke-opacity="0.8" stroke-width="0.45"/>
<g clip-path="url(#c24)" fill="#000" fill-opacity="0.6">
<g filter="url(#bs)">
<circle cx="277.84" cy="128.18" r="0.72"/>
<circle cx="283.18" cy="128.18" r="0.72"/>
<circle cx="275.16" cy="133.52" r="0.72"/>
<circle cx="280.51" cy="133.52" r="0.72"/>
<circle cx="285.85" cy="133.52" r="0.72"/>
<circle cx="277.84" cy="138.87" r="0.72"/>
<circle cx="283.18" cy="138.87" r="0.72"/>
<circle cx="275.16" cy="144.21" r="0.72"/>
<circle cx="280.51" cy="144.21" r="0.72"/>
<circle cx="285.85" cy="144.21" r="0.72"/>
<circle cx="277.84" cy="149.55" r="0.72"/>
<circle cx="283.18" cy="149.55" r="0.72"/>
<circle cx="275.16" cy="154.9" r="0.72"/>
<circle cx="280.51" cy="154.9" r="0.72"/>
<circle cx="285.85" cy="154.9" r="0.72"/>
<circle cx="277.84" cy="160.24" r="0.72"/>
<circle cx="283.18" cy="160.24" r="0.72"/>
<circle cx="275.16" cy="165.58" r="0.72"/>
<circle cx="280.51" cy="165.58" r="0.72"/>
<circle cx="285.85" cy="165.58" r="0.72"/>
<circle cx="277.84" cy="170.93" r="0.72"/>
<circle cx="283.18" cy="170.93" r="0.72"/>
<circle cx="275.16" cy="176.27" r="0.72"/>
<circle cx="280.51" cy="176.27" r="0.72"/>
<circle cx="285.85" cy="176.27" r="0.72"/>
<circle cx="277.84" cy="181.61" r="0.72"/>
<circle cx="283.18" cy="181.61" r="0.72"/>
<circle cx="275.16" cy="186.95" r="0.72"/>
<circle cx="280.51" cy="186.95" r="0.72"/>
<circle cx="285.85" cy="186.95" r="0.72"/>
<circle cx="277.84" cy="192.3" r="0.72"/>
<circle cx="283.18" cy="192.3" r="0.72"/>
<circle cx="275.16" cy="197.64" r="0.72"/>
<circle cx="280.51" cy="197.64" r="0.72"/>
<circle cx="285.85" cy="197.64" r="0.72"/>
<circle cx="277.84" cy="202.98" r="0.72"/>
<circle cx="283.18" cy="202.98" r="0.72"/>
<circle cx="275.16" cy="208.33" r="0.72"/>
<circle cx="280.51" cy="208.33" r="0.72"/>
<circle cx="285.85" cy="208.33" r="0.72"/>
<circle cx="277.84" cy="213.67" r="0.72"/>
<circle cx="283.18" cy="213.67" r="0.72"/>
<circle cx="275.16" cy="219.01" r="0.72"/>
<circle cx="280.51" cy="219.01" r="0.72"/>
<circle cx="285.85" cy="219.01" r="0.72"/>
<circle cx="277.84" cy="224.36" r="0.72"/>
<circle cx="283.18" cy="224.36" r="0.72"/>
<circle cx="275.16" cy="229.7" r="0.72"/>
<circle cx="280.51" cy="229.7" r="0.72"/>
<circle cx="285.85" cy="229.7" r="0.72"/>
<circle cx="277.84" cy="235.04" r="0.72"/>
<circle cx="283.18" cy="235.04" r="0.72"/>
<circle cx="275.16" cy="240.38" r="0.72"/>
<circle cx="280.51" cy="240.38" r="0.72"/>
<circle cx="285.85" cy="240.38" r="0.72"/>
<circle cx="277.84" cy="245.73" r="0.72"/>
<circle cx="283.18" cy="245.73" r="0.72"/>
<circle cx="275.16" cy="251.07" r="0.72"/>
<circle cx="280.51" cy="251.07" r="0.72"/>
<circle cx="285.85" cy="251.07" r="0.72"/>
</g></g>
<rect x="285.65" y="112.9" width="8.81" height="138.6" fill="#4688c3" fill-opacity="0.8" stroke="#4688c3" stroke-opacity="0.8" stroke-width="0.45"/>
<g clip-path="url(#c25)" fill="none" stroke="#000" stroke-opacity="0.76" stroke-width="0.8">
<g filter="url(#bs)">
<path d="M284.65 121.37L295.46 110.56M284.65 132.05L295.46 121.24M284.65 142.74L295.46 131.93M284.65 153.43L295.46 142.62M284.65 164.11L295.46 153.3M284.65 174.8L295.46 163.99M284.65 185.48L295.46 174.67M284.65 196.17L295.46 185.36M284.65 206.86L295.46 196.05M284.65 217.54L295.46 206.73M284.65 228.23L295.46 217.42M284.65 238.91L295.46 228.1M284.65 249.6L295.46 238.79M284.65 260.29L295.46 249.48"/>
</g></g>
<rect x="294.46" y="87.6" width="8.81" height="163.9" fill="#296aae" fill-opacity="0.8" stroke="#296aae" stroke-opacity="0.8" stroke-width="0.45"/>
<g clip-path="url(#c26)" fill="none" stroke="#000" stroke-opacity="0.62" stroke-width="0.8">
<g filter="url(#bs)">
<path d="M293.46 88.11H304.27M293.46 93.45H304.27M293.46 98.8H304.27M293.46 104.14H304.27M293.46 109.48H304.27M293.46 114.82H304.27M293.46 120.17H304.27M293.46 125.51H304.27M293.46 130.85H304.27M293.46 136.2H304.27M293.46 141.54H304.27M293.46 146.88H304.27M293.46 152.23H304.27M293.46 157.57H304.27M293.46 162.91H304.27M293.46 168.25H304.27M293.46 173.6H304.27M293.46 178.94H304.27M293.46 184.28H304.27M293.46 189.63H304.27M293.46 194.97H304.27M293.46 200.31H304.27M293.46 205.66H304.27M293.46 211H304.27M293.46 216.34H304.27M293.46 221.68H304.27M293.46 227.03H304.27M293.46 232.37H304.27M293.46 237.71H304.27M293.46 243.06H304.27M293.46 248.4H304.27"/>
</g></g>
<rect x="303.27" y="62.9" width="8.81" height="188.6" fill="#274f88" fill-opacity="0.8" stroke="#274f88" stroke-opacity="0.8" stroke-width="0.45"/>
<g clip-path="url(#c27)" fill="none" stroke="#000" stroke-opacity="0.37" stroke-width="1.1">
<g filter="url(#bl)">
<circle cx="304.55" cy="64.07" r="1.78"/>
<circle cx="309.89" cy="64.07" r="1.78"/>
<circle cx="301.88" cy="69.41" r="1.78"/>
<circle cx="307.22" cy="69.41" r="1.78"/>
<circle cx="312.57" cy="69.41" r="1.78"/>
<circle cx="304.55" cy="74.75" r="1.78"/>
<circle cx="309.89" cy="74.75" r="1.78"/>
<circle cx="301.88" cy="80.09" r="1.78"/>
<circle cx="307.22" cy="80.09" r="1.78"/>
<circle cx="312.57" cy="80.09" r="1.78"/>
<circle cx="304.55" cy="85.44" r="1.78"/>
<circle cx="309.89" cy="85.44" r="1.78"/>
<circle cx="301.88" cy="90.78" r="1.78"/>
<circle cx="307.22" cy="90.78" r="1.78"/>
<circle cx="312.57" cy="90.78" r="1.78"/>
<circle cx="304.55" cy="96.12" r="1.78"/>
<circle cx="309.89" cy="96.12" r="1.78"/>
<circle cx="301.88" cy="101.47" r="1.78"/>
<circle cx="307.22" cy="101.47" r="1.78"/>
<circle cx="312.57" cy="101.47" r="1.78"/>
<circle cx="304.55" cy="106.81" r="1.78"/>
<circle cx="309.89" cy="106.81" r="1.78"/>
<circle cx="301.88" cy="112.15" r="1.78"/>
<circle cx="307.22" cy="112.15" r="1.78"/>
<circle cx="312.57" cy="112.15" r="1.78"/>
<circle cx="304.55" cy="117.5" r="1.78"/>
<circle cx="309.89" cy="117.5" r="1.78"/>
<circle cx="301.88" cy="122.84" r="1.78"/>
<circle cx="307.22" cy="122.84" r="1.78"/>
<circle cx="312.57" cy="122.84" r="1.78"/>
<circle cx="304.55" cy="128.18" r="1.78"/>
<circle cx="309.89" cy="128.18" r="1.78"/>
<circle cx="301.88" cy="133.52" r="1.78"/>
<circle cx="307.22" cy="133.52" r="1.78"/>
<circle cx="312.57" cy="133.52" r="1.78"/>
<circle cx="304.55" cy="138.87" r="1.78"/>
<circle cx="309.89" cy="138.87" r="1.78"/>
<circle cx="301.88" cy="144.21" r="1.78"/>
<circle cx="307.22" cy="144.21" r="1.78"/>
<circle cx="312.57" cy="144.21" r="1.78"/>
<circle cx="304.55" cy="149.55" r="1.78"/>
<circle cx="309.89" cy="149.55" r="1.78"/>
<circle cx="301.88" cy="154.9" r="1.78"/>
<circle cx="307.22" cy="154.9" r="1.78"/>
<circle cx="312.57" cy="154.9" r="1.78"/>
<circle cx="304.55" cy="160.24" r="1.78"/>
<circle cx="309.89" cy="160.24" r="1.78"/>
<circle cx="301.88" cy="165.58" r="1.78"/>
<circle cx="307.22" cy="165.58" r="1.78"/>
<circle cx="312.57" cy="165.58" r="1.78"/>
<circle cx="304.55" cy="170.93" r="1.78"/>
<circle cx="309.89" cy="170.93" r="1.78"/>
<circle cx="301.88" cy="176.27" r="1.78"/>
<circle cx="307.22" cy="176.27" r="1.78"/>
<circle cx="312.57" cy="176.27" r="1.78"/>
<circle cx="304.55" cy="181.61" r="1.78"/>
<circle cx="309.89" cy="181.61" r="1.78"/>
<circle cx="301.88" cy="186.95" r="1.78"/>
<circle cx="307.22" cy="186.95" r="1.78"/>
<circle cx="312.57" cy="186.95" r="1.78"/>
<circle cx="304.55" cy="192.3" r="1.78"/>
<circle cx="309.89" cy="192.3" r="1.78"/>
<circle cx="301.88" cy="197.64" r="1.78"/>
<circle cx="307.22" cy="197.64" r="1.78"/>
<circle cx="312.57" cy="197.64" r="1.78"/>
<circle cx="304.55" cy="202.98" r="1.78"/>
<circle cx="309.89" cy="202.98" r="1.78"/>
<circle cx="301.88" cy="208.33" r="1.78"/>
<circle cx="307.22" cy="208.33" r="1.78"/>
<circle cx="312.57" cy="208.33" r="1.78"/>
<circle cx="304.55" cy="213.67" r="1.78"/>
<circle cx="309.89" cy="213.67" r="1.78"/>
<circle cx="301.88" cy="219.01" r="1.78"/>
<circle cx="307.22" cy="219.01" r="1.78"/>
<circle cx="312.57" cy="219.01" r="1.78"/>
<circle cx="304.55" cy="224.36" r="1.78"/>
<circle cx="309.89" cy="224.36" r="1.78"/>
<circle cx="301.88" cy="229.7" r="1.78"/>
<circle cx="307.22" cy="229.7" r="1.78"/>
<circle cx="312.57" cy="229.7" r="1.78"/>
<circle cx="304.55" cy="235.04" r="1.78"/>
<circle cx="309.89" cy="235.04" r="1.78"/>
<circle cx="301.88" cy="240.38" r="1.78"/>
<circle cx="307.22" cy="240.38" r="1.78"/>
<circle cx="312.57" cy="240.38" r="1.78"/>
<circle cx="304.55" cy="245.73" r="1.78"/>
<circle cx="309.89" cy="245.73" r="1.78"/>
<circle cx="301.88" cy="251.07" r="1.78"/>
<circle cx="307.22" cy="251.07" r="1.78"/>
<circle cx="312.57" cy="251.07" r="1.78"/>
</g></g>
<rect x="328.7" y="207.3" width="8.81" height="44.2" fill="#f7fbff" fill-opacity="0.8" stroke="#f7fbff" stroke-opacity="0.8" stroke-width="0.45"/>
<g clip-path="url(#c30)" fill="none" stroke="#000" stroke-opacity="0.76" stroke-width="0.8">
<g filter="url(#bs)">
<path d="M327.7 206.55L338.51 195.74M327.7 217.24L338.51 206.43M327.7 227.92L338.51 217.11M327.7 238.61L338.51 227.8M327.7 249.29L338.51 238.48M327.7 259.98L338.51 249.17"/>
<path d="M327.7 242.16L338.51 252.97M327.7 231.48L338.51 242.29M327.7 220.79L338.51 231.6M327.7 210.1L338.51 220.91M327.7 199.42L338.51 210.23"/>
</g></g>
<rect x="337.51" y="136.9" width="8.81" height="114.6" fill="#deebf7" fill-opacity="0.8" stroke="#deebf7" stroke-opacity="0.8" stroke-width="0.45"/>
<g clip-path="url(#c31)" fill="none" stroke="#000" stroke-opacity="0.55" stroke-width="1">
<g filter="url(#bl)">
<circle cx="336.61" cy="138.87" r="1.02"/>
<circle cx="341.95" cy="138.87" r="1.02"/>
<circle cx="347.3" cy="138.87" r="1.02"/>
<circle cx="339.28" cy="144.21" r="1.02"/>
<circle cx="344.62" cy="144.21" r="1.02"/>
<circle cx="336.61" cy="149.55" r="1.02"/>
<circle cx="341.95" cy="149.55" r="1.02"/>
<circle cx="347.3" cy="149.55" r="1.02"/>
<circle cx="339.28" cy="154.9" r="1.02"/>
<circle cx="344.62" cy="154.9" r="1.02"/>
<circle cx="336.61" cy="160.24" r="1.02"/>
<circle cx="341.95" cy="160.24" r="1.02"/>
<circle cx="347.3" cy="160.24" r="1.02"/>
<circle cx="339.28" cy="165.58" r="1.02"/>
<circle cx="344.62" cy="165.58" r="1.02"/>
<circle cx="336.61" cy="170.93" r="1.02"/>
<circle cx="341.95" cy="170.93" r="1.02"/>
<circle cx="347.3" cy="170.93" r="1.02"/>
<circle cx="339.28" cy="176.27" r="1.02"/>
<circle cx="344.62" cy="176.27" r="1.02"/>
<circle cx="336.61" cy="181.61" r="1.02"/>
<circle cx="341.95" cy="181.61" r="1.02"/>
<circle cx="347.3" cy="181.61" r="1.02"/>
<circle cx="339.28" cy="186.95" r="1.02"/>
<circle cx="344.62" cy="186.95" r="1.02"/>
<circle cx="336.61" cy="192.3" r="1.02"/>
<circle cx="341.95" cy="192.3" r="1.02"/>
<circle cx="347.3" cy="192.3" r="1.02"/>
<circle cx="339.28" cy="197.64" r="1.02"/>
<circle cx="344.62" cy="197.64" r="1.02"/>
<circle cx="336.61" cy="202.98" r="1.02"/>
<circle cx="341.95" cy="202.98" r="1.02"/>
<circle cx="347.3" cy="202.98" r="1.02"/>
<circle cx="339.28" cy="208.33" r="1.02"/>
<circle cx="344.62" cy="208.33" r="1.02"/>
<circle cx="336.61" cy="213.67" r="1.02"/>
<circle cx="341.95" cy="213.67" r="1.02"/>
<circle cx="347.3" cy="213.67" r="1.02"/>
<circle cx="339.28" cy="219.01" r="1.02"/>
<circle cx="344.62" cy="219.01" r="1.02"/>
<circle cx="336.61" cy="224.36" r="1.02"/>
<circle cx="341.95" cy="224.36" r="1.02"/>
<circle cx="347.3" cy="224.36" r="1.02"/>
<circle cx="339.28" cy="229.7" r="1.02"/>
<circle cx="344.62" cy="229.7" r="1.02"/>
<circle cx="336.61" cy="235.04" r="1.02"/>
<circle cx="341.95" cy="235.04" r="1.02"/>
<circle cx="347.3" cy="235.04" r="1.02"/>
<circle cx="339.28" cy="240.38" r="1.02"/>
<circle cx="344.62" cy="240.38" r="1.02"/>
<circle cx="336.61" cy="245.73" r="1.02"/>
<circle cx="341.95" cy="245.73" r="1.02"/>
<circle cx="347.3" cy="245.73" r="1.02"/>
<circle cx="339.28" cy="251.07" r="1.02"/>
<circle cx="344.62" cy="251.07" r="1.02"/>
</g></g>
<rect x="346.32" y="180.6" width="8.81" height="70.9" fill="#c6dbef" fill-opacity="0.8" stroke="#c6dbef" stroke-opacity="0.8" stroke-width="0.45"/>
<g clip-path="url(#c32)" fill="none" stroke="#000" stroke-opacity="0.76" stroke-width="0.8">
<g filter="url(#bs)">
<path d="M345.32 249.1L356.13 259.91M345.32 238.41L356.13 249.22M345.32 227.72L356.13 238.53M345.32 217.04L356.13 227.85M345.32 206.35L356.13 217.16M345.32 195.67L356.13 206.48M345.32 184.98L356.13 195.79M345.32 174.29L356.13 185.1"/>
</g></g>
<rect x="355.13" y="198.2" width="8.81" height="53.3" fill="#9ecae1" fill-opacity="0.8" stroke="#9ecae1" stroke-opacity="0.8" stroke-width="0.45"/>
<g clip-path="url(#c33)" fill="none" stroke="#000" stroke-opacity="0.6" stroke-width="0.8">
<g filter="url(#bs)">
<path d="M354.13 200.31H364.94M354.13 205.66H364.94M354.13 211H364.94M354.13 216.34H364.94M354.13 221.68H364.94M354.13 227.03H364.94M354.13 232.37H364.94M354.13 237.71H364.94M354.13 243.06H364.94M354.13 248.4H364.94"/>
<path d="M355.31 197.2V252.5M360.65 197.2V252.5"/>
</g></g>
<rect x="363.94" y="171.9" width="8.81" height="79.6" fill="#6baed6" fill-opacity="0.8" stroke="#6baed6" stroke-opacity="0.8" stroke-width="0.45"/>
<g clip-path="url(#c34)" fill="#000" fill-opacity="0.6">
<g filter="url(#bs)">
<circle cx="363.32" cy="170.93" r="0.72"/>
<circle cx="368.67" cy="170.93" r="0.72"/>
<circle cx="374.01" cy="170.93" r="0.72"/>
<circle cx="366" cy="176.27" r="0.72"/>
<circle cx="371.34" cy="176.27" r="0.72"/>
<circle cx="363.32" cy="181.61" r="0.72"/>
<circle cx="368.67" cy="181.61" r="0.72"/>
<circle cx="374.01" cy="181.61" r="0.72"/>
<circle cx="366" cy="186.95" r="0.72"/>
<circle cx="371.34" cy="186.95" r="0.72"/>
<circle cx="363.32" cy="192.3" r="0.72"/>
<circle cx="368.67" cy="192.3" r="0.72"/>
<circle cx="374.01" cy="192.3" r="0.72"/>
<circle cx="366" cy="197.64" r="0.72"/>
<circle cx="371.34" cy="197.64" r="0.72"/>
<circle cx="363.32" cy="202.98" r="0.72"/>
<circle cx="368.67" cy="202.98" r="0.72"/>
<circle cx="374.01" cy="202.98" r="0.72"/>
<circle cx="366" cy="208.33" r="0.72"/>
<circle cx="371.34" cy="208.33" r="0.72"/>
<circle cx="363.32" cy="213.67" r="0.72"/>
<circle cx="368.67" cy="213.67" r="0.72"/>
<circle cx="374.01" cy="213.67" r="0.72"/>
<circle cx="366" cy="219.01" r="0.72"/>
<circle cx="371.34" cy="219.01" r="0.72"/>
<circle cx="363.32" cy="224.36" r="0.72"/>
<circle cx="368.67" cy="224.36" r="0.72"/>
<circle cx="374.01" cy="224.36" r="0.72"/>
<circle cx="366" cy="229.7" r="0.72"/>
<circle cx="371.34" cy="229.7" r="0.72"/>
<circle cx="363.32" cy="235.04" r="0.72"/>
<circle cx="368.67" cy="235.04" r="0.72"/>
<circle cx="374.01" cy="235.04" r="0.72"/>
<circle cx="366" cy="240.38" r="0.72"/>
<circle cx="371.34" cy="240.38" r="0.72"/>
<circle cx="363.32" cy="245.73" r="0.72"/>
<circle cx="368.67" cy="245.73" r="0.72"/>
<circle cx="374.01" cy="245.73" r="0.72"/>
<circle cx="366" cy="251.07" r="0.72"/>
<circle cx="371.34" cy="251.07" r="0.72"/>
</g></g>
<rect x="372.75" y="155.3" width="8.81" height="96.2" fill="#4688c3" fill-opacity="0.8" stroke="#4688c3" stroke-opacity="0.8" stroke-width="0.45"/>
<g clip-path="url(#c35)" fill="none" stroke="#000" stroke-opacity="0.76" stroke-width="0.8">
<g filter="url(#bs)">
<path d="M371.75 162.5L382.56 151.69M371.75 173.19L382.56 162.38M371.75 183.87L382.56 173.06M371.75 194.56L382.56 183.75M371.75 205.24L382.56 194.43M371.75 215.93L382.56 205.12M371.75 226.62L382.56 215.81M371.75 237.3L382.56 226.49M371.75 247.99L382.56 237.18M371.75 258.67L382.56 247.86"/>
</g></g>
<rect x="381.56" y="119.9" width="8.81" height="131.6" fill="#296aae" fill-opacity="0.8" stroke="#296aae" stroke-opacity="0.8" stroke-width="0.45"/>
<g clip-path="url(#c36)" fill="none" stroke="#000" stroke-opacity="0.62" stroke-width="0.8">
<g filter="url(#bs)">
<path d="M380.56 120.17H391.37M380.56 125.51H391.37M380.56 130.85H391.37M380.56 136.2H391.37M380.56 141.54H391.37M380.56 146.88H391.37M380.56 152.23H391.37M380.56 157.57H391.37M380.56 162.91H391.37M380.56 168.25H391.37M380.56 173.6H391.37M380.56 178.94H391.37M380.56 184.28H391.37M380.56 189.63H391.37M380.56 194.97H391.37M380.56 200.31H391.37M380.56 205.66H391.37M380.56 211H391.37M380.56 216.34H391.37M380.56 221.68H391.37M380.56 227.03H391.37M380.56 232.37H391.37M380.56 237.71H391.37M380.56 243.06H391.37M380.56 248.4H391.37"/>
</g></g>
<rect x="390.37" y="88.8" width="8.81" height="162.7" fill="#274f88" fill-opacity="0.8" stroke="#274f88" stroke-opacity="0.8" stroke-width="0.45"/>
<g clip-path="url(#c37)" fill="none" stroke="#000" stroke-opacity="0.37" stroke-width="1.1">
<g filter="url(#bl)">
<circle cx="392.71" cy="90.78" r="1.78"/>
<circle cx="398.05" cy="90.78" r="1.78"/>
<circle cx="390.04" cy="96.12" r="1.78"/>
<circle cx="395.38" cy="96.12" r="1.78"/>
<circle cx="400.73" cy="96.12" r="1.78"/>
<circle cx="392.71" cy="101.47" r="1.78"/>
<circle cx="398.05" cy="101.47" r="1.78"/>
<circle cx="390.04" cy="106.81" r="1.78"/>
<circle cx="395.38" cy="106.81" r="1.78"/>
<circle cx="400.73" cy="106.81" r="1.78"/>
<circle cx="392.71" cy="112.15" r="1.78"/>
<circle cx="398.05" cy="112.15" r="1.78"/>
<circle cx="390.04" cy="117.5" r="1.78"/>
<circle cx="395.38" cy="117.5" r="1.78"/>
<circle cx="400.73" cy="117.5" r="1.78"/>
<circle cx="392.71" cy="122.84" r="1.78"/>
<circle cx="398.05" cy="122.84" r="1.78"/>
<circle cx="390.04" cy="128.18" r="1.78"/>
<circle cx="395.38" cy="128.18" r="1.78"/>
<circle cx="400.73" cy="128.18" r="1.78"/>
<circle cx="392.71" cy="133.52" r="1.78"/>
<circle cx="398.05" cy="133.52" r="1.78"/>
<circle cx="390.04" cy="138.87" r="1.78"/>
<circle cx="395.38" cy="138.87" r="1.78"/>
<circle cx="400.73" cy="138.87" r="1.78"/>
<circle cx="392.71" cy="144.21" r="1.78"/>
<circle cx="398.05" cy="144.21" r="1.78"/>
<circle cx="390.04" cy="149.55" r="1.78"/>
<circle cx="395.38" cy="149.55" r="1.78"/>
<circle cx="400.73" cy="149.55" r="1.78"/>
<circle cx="392.71" cy="154.9" r="1.78"/>
<circle cx="398.05" cy="154.9" r="1.78"/>
<circle cx="390.04" cy="160.24" r="1.78"/>
<circle cx="395.38" cy="160.24" r="1.78"/>
<circle cx="400.73" cy="160.24" r="1.78"/>
<circle cx="392.71" cy="165.58" r="1.78"/>
<circle cx="398.05" cy="165.58" r="1.78"/>
<circle cx="390.04" cy="170.93" r="1.78"/>
<circle cx="395.38" cy="170.93" r="1.78"/>
<circle cx="400.73" cy="170.93" r="1.78"/>
<circle cx="392.71" cy="176.27" r="1.78"/>
<circle cx="398.05" cy="176.27" r="1.78"/>
<circle cx="390.04" cy="181.61" r="1.78"/>
<circle cx="395.38" cy="181.61" r="1.78"/>
<circle cx="400.73" cy="181.61" r="1.78"/>
<circle cx="392.71" cy="186.95" r="1.78"/>
<circle cx="398.05" cy="186.95" r="1.78"/>
<circle cx="390.04" cy="192.3" r="1.78"/>
<circle cx="395.38" cy="192.3" r="1.78"/>
<circle cx="400.73" cy="192.3" r="1.78"/>
<circle cx="392.71" cy="197.64" r="1.78"/>
<circle cx="398.05" cy="197.64" r="1.78"/>
<circle cx="390.04" cy="202.98" r="1.78"/>
<circle cx="395.38" cy="202.98" r="1.78"/>
<circle cx="400.73" cy="202.98" r="1.78"/>
<circle cx="392.71" cy="208.33" r="1.78"/>
<circle cx="398.05" cy="208.33" r="1.78"/>
<circle cx="390.04" cy="213.67" r="1.78"/>
<circle cx="395.38" cy="213.67" r="1.78"/>
<circle cx="400.73" cy="213.67" r="1.78"/>
<circle cx="392.71" cy="219.01" r="1.78"/>
<circle cx="398.05" cy="219.01" r="1.78"/>
<circle cx="390.04" cy="224.36" r="1.78"/>
<circle cx="395.38" cy="224.36" r="1.78"/>
<circle cx="400.73" cy="224.36" r="1.78"/>
<circle cx="392.71" cy="229.7" r="1.78"/>
<circle cx="398.05" cy="229.7" r="1.78"/>
<circle cx="390.04" cy="235.04" r="1.78"/>
<circle cx="395.38" cy="235.04" r="1.78"/>
<circle cx="400.73" cy="235.04" r="1.78"/>
<circle cx="392.71" cy="240.38" r="1.78"/>
<circle cx="398.05" cy="240.38" r="1.78"/>
<circle cx="390.04" cy="245.73" r="1.78"/>
<circle cx="395.38" cy="245.73" r="1.78"/>
<circle cx="400.73" cy="245.73" r="1.78"/>
<circle cx="392.71" cy="251.07" r="1.78"/>
<circle cx="398.05" cy="251.07" r="1.78"/>
</g></g>
<path d="M46.47 203.1H420.55" stroke="#000" stroke-width="0.52" stroke-dasharray="1.29 0.55" fill="none"/>
<path d="M46.47 154.48H420.55" stroke="#000" stroke-width="0.52" stroke-dasharray="1.29 0.55" fill="none"/>
<path d="M46.47 105.55H420.55" stroke="#000" stroke-width="0.52" stroke-dasharray="1.29 0.55" fill="none"/>
<path d="M46.47 57H420.55" stroke="#000" stroke-width="0.52" stroke-dasharray="1.29 0.55" fill="none"/>
<rect x="46.47" y="8.5" width="374.08" height="243" fill="none" stroke="#000" stroke-width="0.42"/>
<path d="M46.47 251.5h-1.56M46.47 203.1h-1.56M46.47 154.48h-1.56M46.47 105.55h-1.56M46.47 57h-1.56M46.47 8.5h-1.56M102.64 251.5v1.56M189.74 251.5v1.56M276.84 251.5v1.56M363.94 251.5v1.56" stroke="#000" stroke-width="0.42" fill="none"/>
<g font-family="'DejaVu Sans', 'Liberation Sans', sans-serif" fill="#000" stroke="#000" stroke-width="0.2" style="font-kerning:none">
<g font-size="12.47" text-anchor="end">
<text x="42.85" y="256.45">0.0%</text>
<text x="42.85" y="207.77">5.0%</text>
<text x="42.85" y="159.09">10.0%</text>
<text x="42.85" y="110.41">15.0%</text>
<text x="42.85" y="61.73">20.0%</text>
<text x="42.85" y="13.05">25.0%</text>
</g>
<g font-size="12.47" text-anchor="middle">
<text x="102.64" y="264.4">10</text>
<text x="189.74" y="264.4">20</text>
<text x="276.84" y="264.4">30</text>
<text x="363.94" y="264.4">40</text>
</g>
<text x="233.51" y="278.7" font-size="13.36" text-anchor="middle">Top k</text>
</g>
</svg>
</body></html>
